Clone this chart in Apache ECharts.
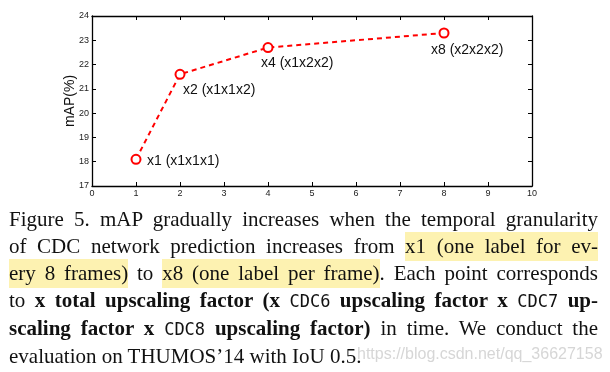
<!DOCTYPE html>
<html>
<head>
<meta charset="utf-8">
<script src="https://cdn.jsdelivr.net/npm/echarts@6/dist/echarts.min.js"></script>
<style>
  html, body { margin: 0; padding: 0; background: #fff; }
  #wrap { position: relative; width: 610px; height: 372px; overflow: hidden; }
  #chart { position: absolute; left: 0; top: 0; width: 610px; height: 372px; }
  #caption { position: absolute; left: 9px; top: 206px; width: 589px;
    font-family: "Liberation Serif", "Times New Roman", serif; font-size: 21px;
    line-height: 27px; color: #111; }
  #caption .ln { text-align: justify; text-align-last: justify; white-space: nowrap; }
  #caption .ln.last { text-align: left; text-align-last: left; }
  #caption .hl { background: #fdf2b1; padding: 2px 0 3px 0; }
  #caption .tt { font-family: "DejaVu Sans Mono", monospace; font-size: 17px; font-weight: normal; }
  #wm { position: absolute; left: 357px; top: 345px; font-family: "Liberation Sans", Arial, sans-serif;
    font-size: 16px; color: rgba(210,210,210,0.9); white-space: nowrap; }
</style>
</head>
<body>
<div id="wrap">
  <div id="chart"></div>
  <div id="caption">
    <div class="ln">Figure 5. mAP gradually increases when the temporal granularity</div>
    <div class="ln">of CDC network prediction increases from <span class="hl">x1 (one label for ev-</span></div>
    <div class="ln"><span class="hl">ery 8 frames)</span> to <span class="hl">x8 (one label per frame)</span>. Each point corresponds</div>
    <div class="ln">to <b>x total upscaling factor (x <span class="tt">CDC6</span> upscaling factor x <span class="tt">CDC7</span> up-</b></div>
    <div class="ln"><b>scaling factor x <span class="tt">CDC8</span> upscaling factor)</b> in time. We conduct the</div>
    <div class="ln last">evaluation on THUMOS’14 with IoU 0.5.</div>
  </div>
  <div id="wm">https://blog.csdn.net/qq_36627158</div>
</div>
<script>
// ---- data ----
const upscaling = [1, 2, 4, 8];
const mAP = [18.1, 21.6, 22.7, 23.3];
const pointLabels = ['x1 (x1x1x1)', 'x2 (x1x1x2)', 'x4 (x1x2x2)', 'x8 (x2x2x2)'];
const xRange = [0, 10];
const yRange = [17, 24];
const yName = 'mAP(%)';

// ---- style (label offsets from point centre) ----
const labelOffsets = [[11, 2], [3, 16], [-7, 16], [-13, 17]];

const chart = echarts.init(document.getElementById('chart'), null, { renderer: 'canvas' });

const axisLine = { show: true, onZero: false, lineStyle: { color: '#000', width: 1.3 } };
const tickIn = { show: true, inside: true, length: 4, lineStyle: { color: '#000', width: 1 } };
const lblStyle = { fontFamily: 'Liberation Sans, Arial, sans-serif', fontSize: 9, color: '#222' };

const option = {
  animation: false,
  backgroundColor: 'transparent',
  grid: { left: 92, top: 16, width: 440, height: 170, containLabel: false },
  xAxis: [
    { type: 'value', min: xRange[0], max: xRange[1], interval: 1, position: 'bottom',
      axisLine: axisLine, axisTick: tickIn, splitLine: { show: false },
      axisLabel: Object.assign({ margin: 3 }, lblStyle) },
    { type: 'value', min: xRange[0], max: xRange[1], interval: 1, position: 'top',
      axisLine: axisLine, axisTick: tickIn, splitLine: { show: false },
      axisLabel: { show: false } }
  ],
  yAxis: [
    { type: 'value', min: yRange[0], max: yRange[1], interval: 1, position: 'left',
      name: yName, nameLocation: 'middle', nameGap: 15, nameRotate: 90, nameMoveOverlap: false,
      nameTextStyle: { fontFamily: 'Liberation Sans, Arial, sans-serif', fontSize: 14, color: '#111' },
      axisLine: axisLine, axisTick: tickIn, splitLine: { show: false },
      axisLabel: Object.assign({ margin: 3 }, lblStyle) },
    { type: 'value', min: yRange[0], max: yRange[1], interval: 1, position: 'right',
      axisLine: axisLine, axisTick: tickIn, splitLine: { show: false },
      axisLabel: { show: false } }
  ],
  series: [{
    type: 'line',
    xAxisIndex: 0, yAxisIndex: 0,
    data: upscaling.map((x, i) => ({
      value: [x, mAP[i]],
      label: {
        show: true, formatter: pointLabels[i], position: 'inside',
        align: 'left', verticalAlign: 'middle', offset: labelOffsets[i],
        fontFamily: 'Liberation Sans, Arial, sans-serif', fontSize: 14, color: '#111'
      }
    })),
    symbol: 'circle', symbolSize: 9,
    itemStyle: { color: '#fff', borderColor: '#ff0000', borderWidth: 2 },
    lineStyle: { color: '#ff0000', width: 2, type: [5, 4] },
    z: 3
  }]
};
chart.setOption(option);
</script>
</body>
</html>
